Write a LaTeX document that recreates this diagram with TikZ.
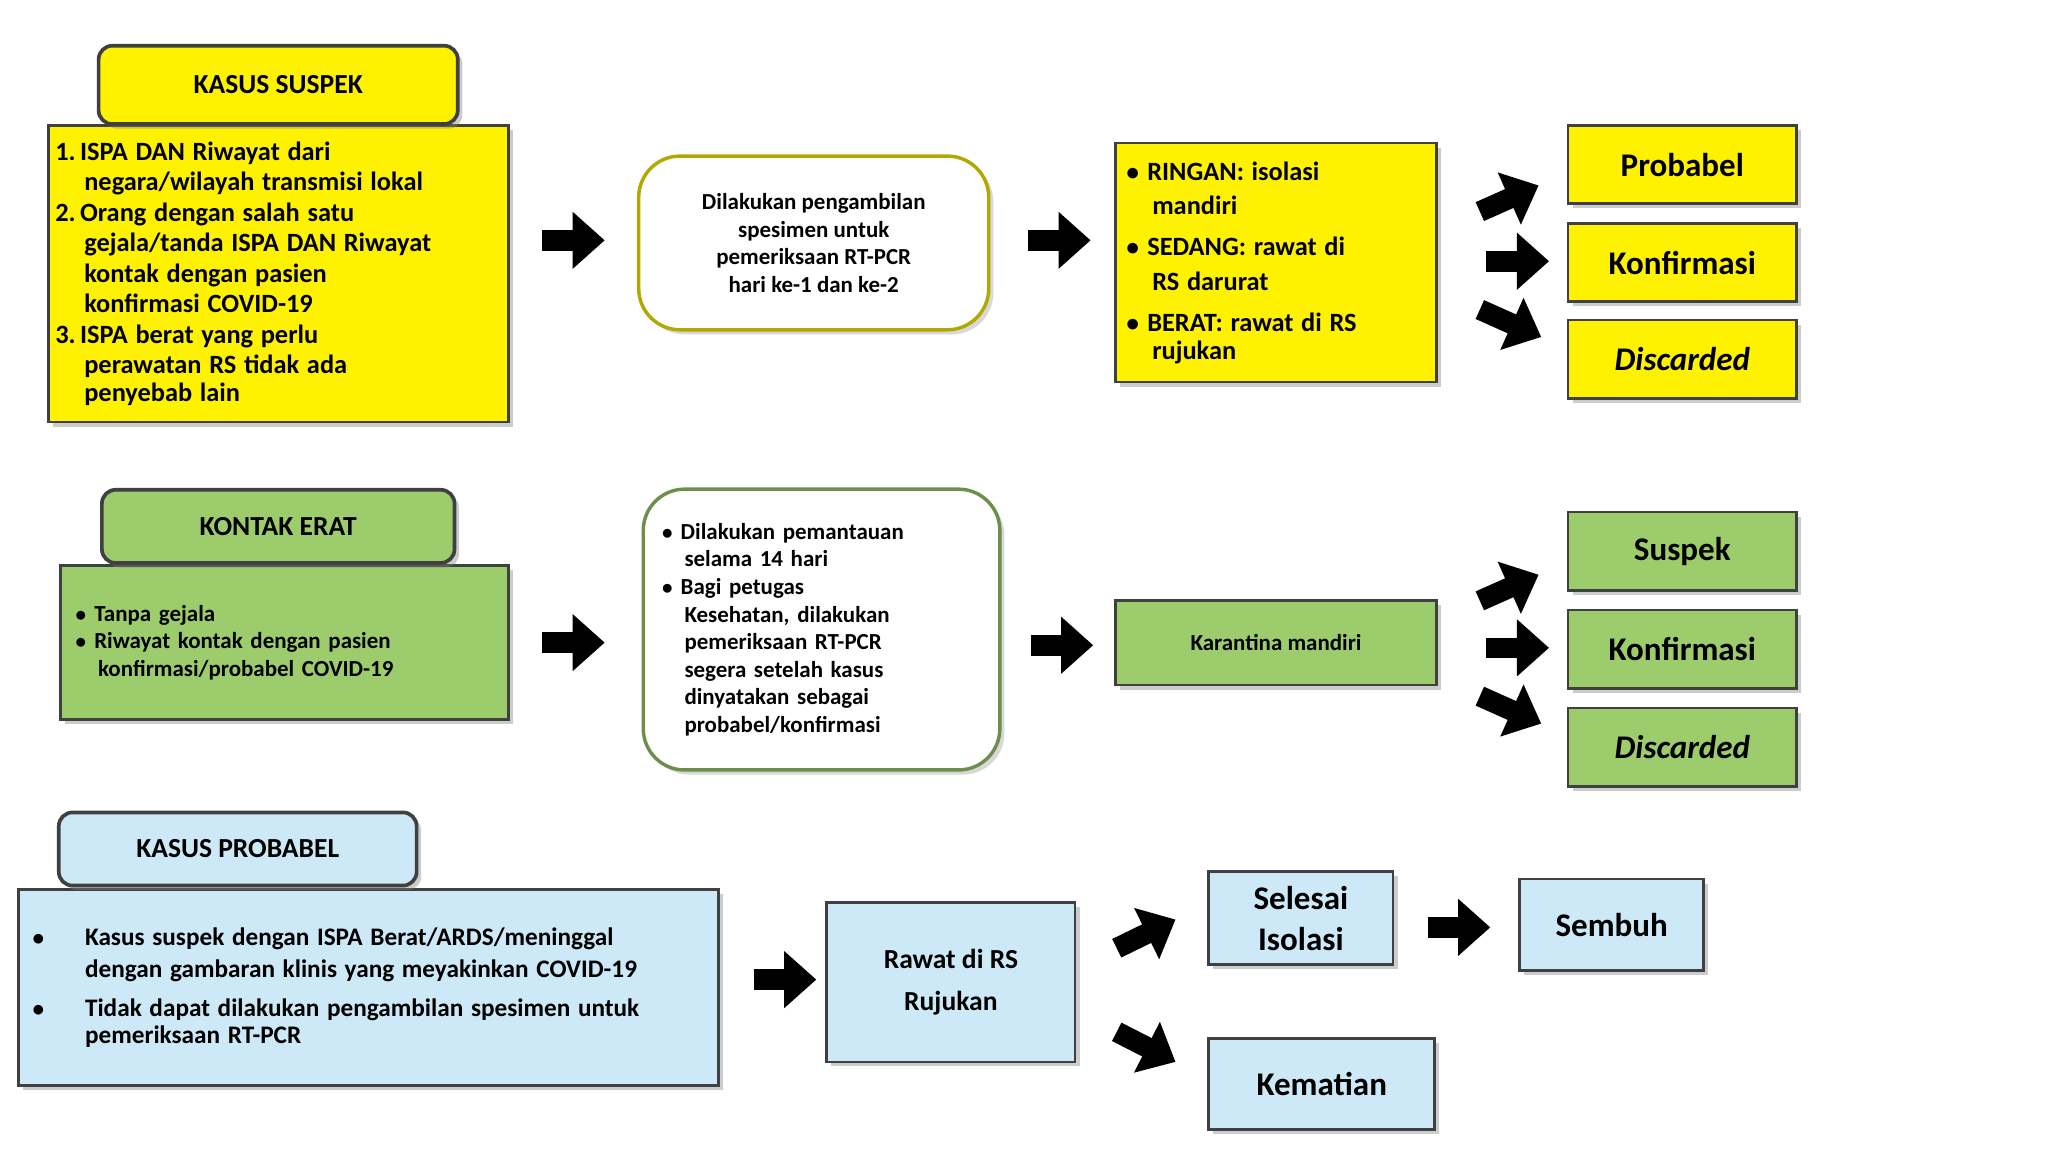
\documentclass[tikz,border=0pt]{standalone}
\usepackage{fontspec}
\setmainfont{Carlito}
\usetikzlibrary{arrows.meta,shadows}
\definecolor{yel}{HTML}{FFF200}
\definecolor{grn}{HTML}{9DCC6C}
\definecolor{blu}{HTML}{CDE8F6}
\begin{document}
\begin{tikzpicture}[x=0.02cm,y=-0.02cm,
 box/.style={draw=black!75,line width=1.2pt,inner sep=4pt,drop shadow={shadow xshift=2pt,shadow yshift=-2pt,opacity=.4},font=\bfseries},
 title/.style={box,rounded corners=6pt,line width=1.6pt,font=\bfseries\large},
 round/.style={draw=#1,fill=white,rounded corners=18pt,line width=1.5pt,drop shadow={shadow xshift=2pt,shadow yshift=-2pt,opacity=.3},align=center,font=\bfseries},
 big/.style={-{Triangle[length=14pt,width=24pt]},line width=9pt},
 res/.style={box,font=\bfseries\Large,minimum width={175*0.02cm},minimum height={60*0.02cm}}]
\useasboundingbox (0,0) rectangle (1568,882);
\fill[white] (0,0) rectangle (1568,882);
% row 1
\node[box,fill=yel,minimum width={352*0.02cm},minimum height={227*0.02cm},text width={342*0.02cm},anchor=north west,align=left,inner sep=3pt] (s1) at (36,95) {\raggedright\fontsize{11.5}{13.3}\selectfont
1.\,ISPA DAN Riwayat dari\\\hspace*{1.1em}negara/wilayah transmisi lokal\\
2.\,Orang dengan salah satu\\\hspace*{1.1em}gejala/tanda ISPA DAN Riwayat\\\hspace*{1.1em}kontak dengan pasien\\\hspace*{1.1em}konfirmasi COVID-19\\
3.\,ISPA berat yang perlu\\\hspace*{1.1em}perawatan RS tidak ada\\\hspace*{1.1em}penyebab lain};
\node[title,fill=yel,minimum width={275*0.02cm},minimum height={60*0.02cm}] (t1) at (213,65) {KASUS SUSPEK};
\node[round=yel!70!black,minimum width={268*0.02cm},minimum height={133*0.02cm}] (sp) at (623,186) {Dilakukan pengambilan\\spesimen untuk\\pemeriksaan RT-PCR\\hari ke-1 dan ke-2};
\node[box,fill=yel,minimum width={246*0.02cm},minimum height={183*0.02cm},text width={230*0.02cm},align=left] (rg) at (977,201) {\raggedright\fontsize{11.5}{15}\selectfont
$\bullet$\ RINGAN: isolasi\\\hspace*{1em}mandiri\\[3pt]$\bullet$\ SEDANG: rawat di\\\hspace*{1em}RS darurat\\[3pt]$\bullet$\ BERAT: rawat di RS\\\hspace*{1em}rujukan};
\node[res,fill=yel] (p1) at (1288,126) {Probabel};
\node[res,fill=yel] (k1) at (1288,201) {Konfirmasi};
\node[res,fill=yel] (d1) at (1288,275) {\itshape Discarded};
\coordinate (a1) at (415,184); \coordinate (a2) at (463,184);
\coordinate (b1) at (787,184); \coordinate (b2) at (835,184);
\draw[big] (a1) -- (a2); \draw[big] (b1) -- (b2);
\coordinate (c0) at (1133,162); \coordinate (c1) at (1178,142);
\coordinate (c2) at (1138,200); \coordinate (c3) at (1186,200);
\coordinate (c4) at (1133,237); \coordinate (c5) at (1180,258);
\draw[big] (c0)--(c1); \draw[big] (c2)--(c3); \draw[big] (c4)--(c5);
% row 2
\node[box,fill=grn,minimum width={343*0.02cm},minimum height={118*0.02cm},text width={320*0.02cm},anchor=north west,align=left] (s2) at (45,432) {\raggedright
$\bullet$\ Tanpa gejala\\$\bullet$\ Riwayat kontak dengan pasien\\\hspace*{1em}konfirmasi/probabel COVID-19};
\node[title,fill=grn,minimum width={270*0.02cm},minimum height={56*0.02cm}] (t2) at (213,403) {KONTAK ERAT};
\node[round=grn!70!black,minimum width={273*0.02cm},minimum height={215*0.02cm},text width={245*0.02cm},align=left] (pm) at (629,482) {\raggedright
$\bullet$\ Dilakukan pemantauan\\\hspace*{1em}selama 14 hari\\$\bullet$\ Bagi petugas\\\hspace*{1em}Kesehatan, dilakukan\\\hspace*{1em}pemeriksaan RT-PCR\\\hspace*{1em}segera setelah kasus\\\hspace*{1em}dinyatakan sebagai\\\hspace*{1em}probabel/konfirmasi};
\node[box,fill=grn,minimum width={246*0.02cm},minimum height={65*0.02cm}] (km) at (977,492) {Karantina mandiri};
\node[res,fill=grn] (p2) at (1288,422) {Suspek};
\node[res,fill=grn] (k2) at (1288,497) {Konfirmasi};
\node[res,fill=grn] (d2) at (1288,572) {\itshape Discarded};
\coordinate (e1) at (415,492); \coordinate (e2) at (463,492);
\coordinate (f1) at (789,494); \coordinate (f2) at (837,494);
\draw[big] (e1)--(e2); \draw[big] (f1)--(f2);
\coordinate (g0) at (1133,460); \coordinate (g1) at (1178,440);
\coordinate (g2) at (1138,496); \coordinate (g3) at (1186,496);
\coordinate (g4) at (1133,533); \coordinate (g5) at (1180,554);
\draw[big] (g0)--(g1); \draw[big] (g2)--(g3); \draw[big] (g4)--(g5);
% row 3
\node[box,fill=blu,minimum width={536*0.02cm},minimum height={150*0.02cm},text width={515*0.02cm},anchor=north west,align=left] (s3) at (13,680) {\raggedright\fontsize{11}{14}\selectfont
$\bullet$\hspace{1.6em}Kasus suspek dengan ISPA Berat/ARDS/meninggal\\\hspace*{2.1em}dengan gambaran klinis yang meyakinkan COVID-19\\[3pt]
$\bullet$\hspace{1.6em}Tidak dapat dilakukan pengambilan spesimen untuk\\\hspace*{2.1em}pemeriksaan RT-PCR};
\node[title,fill=blu,minimum width={274*0.02cm},minimum height={56*0.02cm}] (t3) at (182,650) {KASUS PROBABEL};
\node[box,fill=blu,minimum width={190*0.02cm},minimum height={122*0.02cm},align=center,font=\bfseries\large] (rw) at (728,752) {Rawat di RS\\[4pt]Rujukan};
\node[box,fill=blu,minimum width={141*0.02cm},minimum height={71*0.02cm},align=center,font=\bfseries\Large,inner sep=1pt] (si) at (996,703) {Selesai\\Isolasi};
\node[box,fill=blu,minimum width={141*0.02cm},minimum height={70*0.02cm},font=\bfseries\Large] (sb) at (1234,708) {Sembuh};
\node[box,fill=blu,minimum width={173*0.02cm},minimum height={70*0.02cm},font=\bfseries\Large] (kt) at (1012,830) {Kematian};
\coordinate (h1) at (577,750); \coordinate (h2) at (625,750);
\coordinate (i1) at (1093,710); \coordinate (i2) at (1141,710);
\coordinate (j0) at (855,726); \coordinate (j1) at (900,704);
\coordinate (j2) at (855,790); \coordinate (j3) at (900,813);
\draw[big] (h1)--(h2); \draw[big] (i1)--(i2); \draw[big] (j0)--(j1); \draw[big] (j2)--(j3);
\end{tikzpicture}
\end{document}
